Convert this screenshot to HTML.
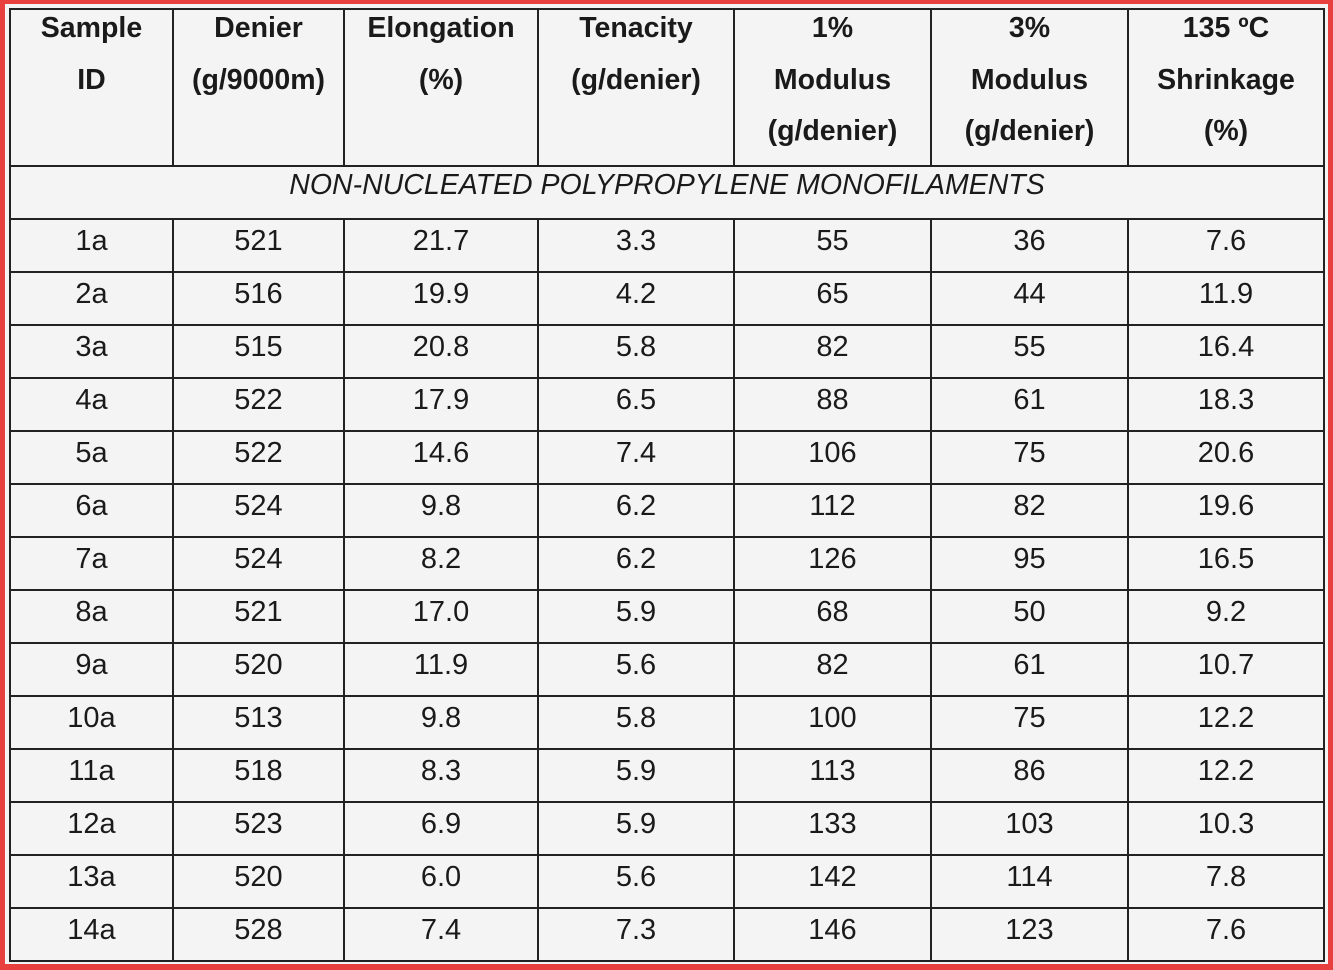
<!DOCTYPE html>
<html><head><meta charset="utf-8"><style>
html,body{margin:0;padding:0}
body{width:1333px;height:970px;background:#e8403f;position:relative;overflow:hidden;font-family:"Liberation Sans",Arial,sans-serif}
#inner{position:absolute;left:5px;top:4px;width:1323px;height:960px;background:#f4f4f4}
table{position:absolute;left:4px;top:4px;border-collapse:collapse;table-layout:fixed;color:#1a1a1a}
td{border:2px solid #222;text-align:center;padding:0 0 9px 0;font-size:29px;height:42px;line-height:42px;box-sizing:content-box}
th{border:2px solid #222;font-size:28.5px;font-weight:bold;height:155px;vertical-align:top;padding:0;color:#1a1a1a}
th div{line-height:51.5px;margin-top:-7px}
td.sub{font-style:italic;font-size:28.5px;padding-bottom:15px;height:36px;line-height:36px}
</style></head><body>
<div id="inner">
<table>
<colgroup><col style="width:163px"><col style="width:171px"><col style="width:194px"><col style="width:196px"><col style="width:197px"><col style="width:197px"><col style="width:196px"></colgroup>
<tr>
<th><div>Sample<br>ID</div></th>
<th><div>Denier<br>(g/9000m)</div></th>
<th><div>Elongation<br>(%)</div></th>
<th><div>Tenacity<br>(g/denier)</div></th>
<th><div>1%<br>Modulus<br>(g/denier)</div></th>
<th><div>3%<br>Modulus<br>(g/denier)</div></th>
<th><div>135 ºC<br>Shrinkage<br>(%)</div></th>
</tr>
<tr><td class="sub" colspan="7">NON-NUCLEATED POLYPROPYLENE MONOFILAMENTS</td></tr>
<tr><td>1a</td><td>521</td><td>21.7</td><td>3.3</td><td>55</td><td>36</td><td>7.6</td></tr>
<tr><td>2a</td><td>516</td><td>19.9</td><td>4.2</td><td>65</td><td>44</td><td>11.9</td></tr>
<tr><td>3a</td><td>515</td><td>20.8</td><td>5.8</td><td>82</td><td>55</td><td>16.4</td></tr>
<tr><td>4a</td><td>522</td><td>17.9</td><td>6.5</td><td>88</td><td>61</td><td>18.3</td></tr>
<tr><td>5a</td><td>522</td><td>14.6</td><td>7.4</td><td>106</td><td>75</td><td>20.6</td></tr>
<tr><td>6a</td><td>524</td><td>9.8</td><td>6.2</td><td>112</td><td>82</td><td>19.6</td></tr>
<tr><td>7a</td><td>524</td><td>8.2</td><td>6.2</td><td>126</td><td>95</td><td>16.5</td></tr>
<tr><td>8a</td><td>521</td><td>17.0</td><td>5.9</td><td>68</td><td>50</td><td>9.2</td></tr>
<tr><td>9a</td><td>520</td><td>11.9</td><td>5.6</td><td>82</td><td>61</td><td>10.7</td></tr>
<tr><td>10a</td><td>513</td><td>9.8</td><td>5.8</td><td>100</td><td>75</td><td>12.2</td></tr>
<tr><td>11a</td><td>518</td><td>8.3</td><td>5.9</td><td>113</td><td>86</td><td>12.2</td></tr>
<tr><td>12a</td><td>523</td><td>6.9</td><td>5.9</td><td>133</td><td>103</td><td>10.3</td></tr>
<tr><td>13a</td><td>520</td><td>6.0</td><td>5.6</td><td>142</td><td>114</td><td>7.8</td></tr>
<tr><td>14a</td><td>528</td><td>7.4</td><td>7.3</td><td>146</td><td>123</td><td>7.6</td></tr>
</table>
</div>
</body></html>
